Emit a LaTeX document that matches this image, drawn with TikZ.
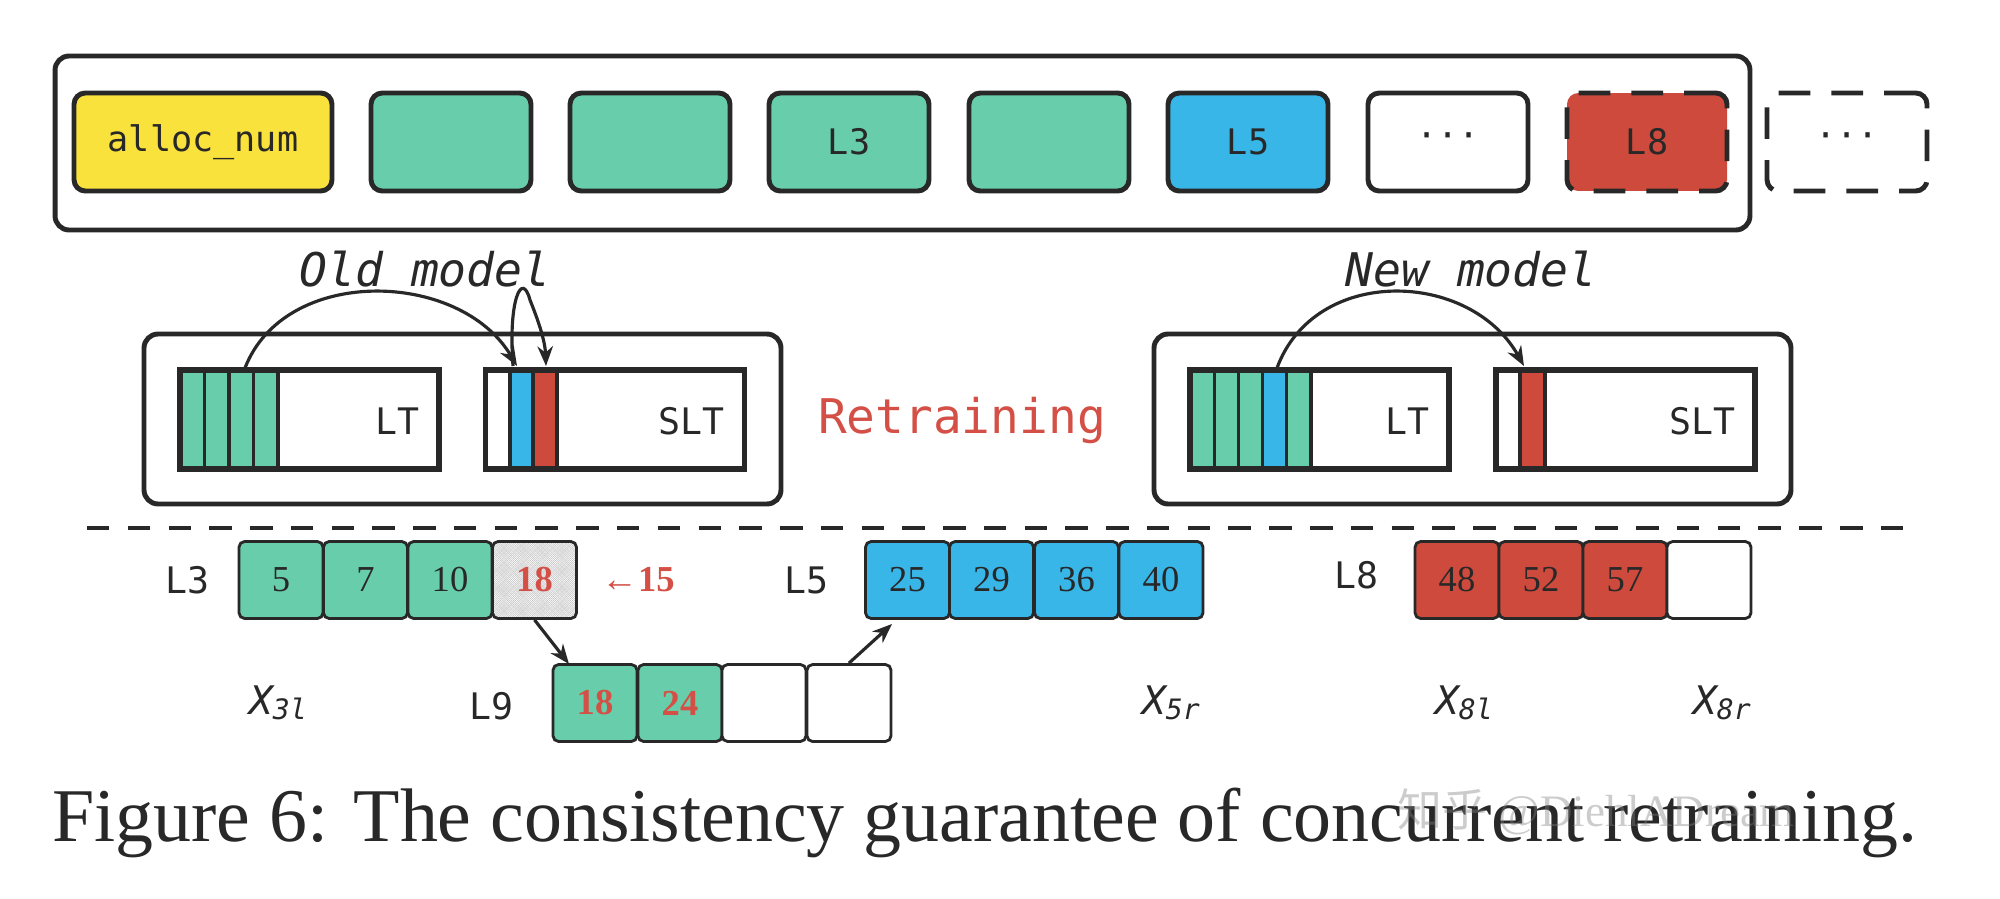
\documentclass[tikz,border=0pt]{standalone}
\usepackage{fontspec}
\setmainfont{Liberation Serif}
\newfontfamily\mono{DejaVu Sans Mono}
\newfontfamily\cjk{Noto Sans CJK SC}
\usetikzlibrary{patterns,arrows.meta}
\definecolor{gr}{RGB}{104,205,170}
\definecolor{bl}{RGB}{56,182,232}
\definecolor{rd}{RGB}{206,74,60}
\definecolor{yl}{RGB}{250,226,60}
\definecolor{ink}{RGB}{40,40,40}
\definecolor{rt}{RGB}{212,80,70}
\tikzset{
 top/.style={draw=ink,line width=7pt,rounded corners=16pt,minimum width=8cm,minimum height=4.9cm,inner sep=0pt,font=\mono\fontsize{50}{50}\selectfont,text=ink},
 frame/.style={draw=ink,line width=7pt,rounded corners=20pt,inner sep=0pt},
 tab/.style={draw=ink,line width=7.5pt,minimum width=12.95cm,minimum height=4.95cm,inner sep=0pt},
 strip/.style={draw=ink,line width=4.5pt},
 cell/.style={draw=ink,line width=4pt,rounded corners=8pt,minimum width=4.2cm,minimum height=3.85cm,inner sep=0pt,font=\fontsize{52}{52}\selectfont,text=ink},
 lab/.style={font=\mono\fontsize{52}{52}\selectfont,text=ink},
 it/.style={font=\mono\itshape\fontsize{66}{66}\selectfont,text=ink},
 arr/.style={draw=ink,line width=4.5pt,-{Stealth[length=28pt,width=22pt]}},
 xl/.style={font=\mono\itshape\fontsize{56}{56}\selectfont,text=ink}
}
\begin{document}
\begin{tikzpicture}[x=0.05cm,y=-0.05cm]
\useasboundingbox (0,0) rectangle (2000,899);
\fill[white] (0,0) rectangle (2000,899);
% top row
\node[frame,minimum width=84.75cm,minimum height=8.7cm] (outer) at (902.5,143) {};
\node[top,fill=yl,minimum width=12.9cm] (an) at (203,142) {alloc\_num};
\node[top,fill=gr] (t1) at (451,142) {};
\node[top,fill=gr] (t2) at (650,142) {};
\node[top,fill=gr] (t3) at (849,142) {L3};
\node[top,fill=gr] (t4) at (1049,142) {};
\node[top,fill=bl] (t5) at (1248,142) {L5};
\node[top,fill=white] (t6) at (1448,142) {\raisebox{6pt}{···}};
\node[top,fill=rd,dash pattern=on 45pt off 30pt] (t7) at (1647,142) {L8};
\node[top,fill=white,dash pattern=on 45pt off 30pt] (t8) at (1847,142) {\raisebox{6pt}{···}};
% models
\node[it] (om) at (425,269) {Old model};
\node[it] (nm) at (1471,269) {New model};
\node[frame,minimum width=31.85cm,minimum height=8.5cm] (ob) at (462.5,419) {};
\node[frame,minimum width=31.85cm,minimum height=8.5cm] (nb) at (1472.5,419) {};
\foreach \i in {0,...,3} \fill[gr] (180+\i*24.5,370) rectangle (204.5+\i*24.5,469);
\foreach \i in {1,...,4} \draw[strip] (180+\i*24.5,370) -- (180+\i*24.5,469);
\node[tab] (olt) at (309.5,419.5) {};
\node[lab,anchor=east] at (422,421) {LT};
\fill[bl] (510,370) rectangle (533,469);
\fill[rd] (533,370) rectangle (557,469);
\draw[strip] (510,370) -- (510,469) (533,370) -- (533,469) (557,370) -- (557,469);
\node[tab] (oslt) at (615,419.5) {};
\node[lab,anchor=east] at (727,421) {SLT};
\foreach \i/\c in {0/gr,1/gr,2/gr,3/bl,4/gr} \fill[\c] (1190+\i*24.2,370) rectangle (1214.2+\i*24.2,469);
\foreach \i in {1,...,5} \draw[strip] (1190+\i*24.2,370) -- (1190+\i*24.2,469);
\node[tab] (nlt) at (1319.5,419.5) {};
\node[lab,anchor=east] at (1432,421) {LT};
\fill[rd] (1520,370) rectangle (1545,469);
\draw[strip] (1520,370) -- (1520,469) (1545,370) -- (1545,469);
\node[tab] (nslt) at (1625.5,419.5) {};
\node[lab,anchor=east] at (1738,421) {SLT};
\coordinate (oa) at (245,368); \coordinate (ob1) at (517,366);
\coordinate (oc) at (513,366); \coordinate (od) at (546,366);
\draw[arr] (oa) .. controls (285,265) and (460,270) .. (ob1);
\draw[arr] (oc) .. controls (508,300) and (522,270) .. (530,300) .. controls (538,320) and (545,340) .. (od);
\coordinate (na) at (1277,368); \coordinate (nb1) at (1524,366);
\draw[arr] (na) .. controls (1315,265) and (1470,270) .. (nb1);
\node[font=\mono\fontsize{68}{68}\selectfont,text=rt] (rtn) at (962,420) {Retraining};
% dashed line
\coordinate (d1) at (87,528); \coordinate (d2) at (1903,528);
\draw[ink,line width=6pt,dash pattern=on 32pt off 26pt] (d1) -- (d2);
% L3
\node[lab] (l3) at (188,580) {L3};
\node[cell,fill=gr] (c31) at (281,580) {5};
\node[cell,fill=gr] (c32) at (365.5,580) {7};
\node[cell,fill=gr] (c33) at (450,580) {10};
\node[cell,pattern=crosshatch,pattern color=gray!45,font=\bfseries\fontsize{52}{52}\selectfont,text=rt] (c34) at (534.5,580) {18};
\node[font=\bfseries\fontsize{52}{52}\selectfont,text=rt] (n15) at (638,580) {←15};
% L5
\node[lab] (l5) at (806,580) {L5};
\node[cell,fill=bl] (c51) at (907.5,580) {25};
\node[cell,fill=bl] (c52) at (991.5,580) {29};
\node[cell,fill=bl] (c53) at (1076.5,580) {36};
\node[cell,fill=bl] (c54) at (1161,580) {40};
% L8
\node[lab] (l8) at (1356,575) {L8};
\node[cell,fill=rd] (c81) at (1457,580) {48};
\node[cell,fill=rd] (c82) at (1541,580) {52};
\node[cell,fill=rd] (c83) at (1625,580) {57};
\node[cell,fill=white] (c84) at (1709,580) {};
% L9
\node[lab] (l9) at (491,706) {L9};
\node[cell,fill=gr,font=\bfseries\fontsize{52}{52}\selectfont,text=rt] (c91) at (595,703) {18};
\node[cell,fill=gr,font=\bfseries\fontsize{52}{52}\selectfont,text=rt] (c92) at (680,703) {24};
\node[cell,fill=white] (c93) at (764,703) {};
\node[cell,fill=white] (c94) at (849,703) {};
\coordinate (e1) at (569,664); \coordinate (e2) at (892,624);
\draw[arr] (c34.south) -- (e1);
\draw[arr] (c94.north) -- (e2);
% x labels
\node[xl] at (278,703) {X\raisebox{-8pt}{\fontsize{40}{40}\selectfont 3l}};
\node[xl] at (1171,703) {X\raisebox{-8pt}{\fontsize{40}{40}\selectfont 5r}};
\node[xl] at (1464,703) {X\raisebox{-8pt}{\fontsize{40}{40}\selectfont 8l}};
\node[xl] at (1722,703) {X\raisebox{-8pt}{\fontsize{40}{40}\selectfont 8r}};
% caption
\node[anchor=west,font=\fontsize{108}{108}\selectfont,text=ink,inner sep=0pt] (cap) at (52,823) {Figure 6: The consistency guarantee of concurrent retraining.};
\node[anchor=west,font=\fontsize{64}{64}\selectfont,text=gray,opacity=0.4] (wm) at (1395,812) {{\cjk 知乎} @DiehlADream};
\end{tikzpicture}
\end{document}
